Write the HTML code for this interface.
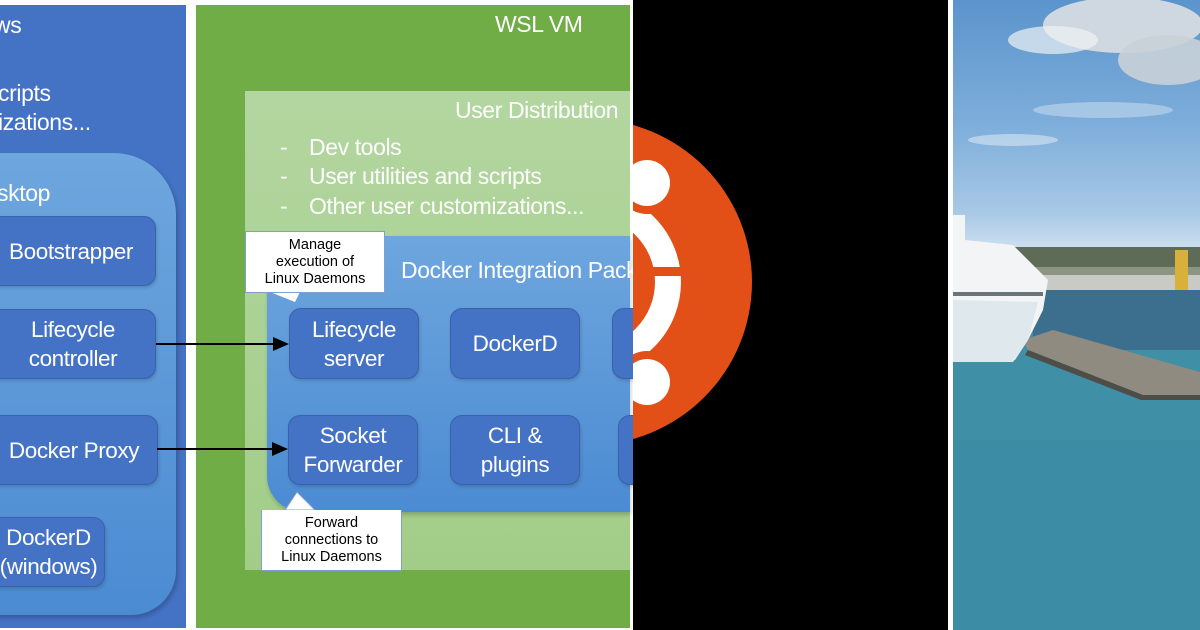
<!DOCTYPE html>
<html><head><meta charset="utf-8"><style>
*{margin:0;padding:0;box-sizing:border-box}
body{width:1200px;height:630px;background:#fff;position:relative;overflow:hidden;font-family:"Liberation Sans",sans-serif;color:#fff}
.a{position:absolute}
.t{position:absolute;font-size:23px;line-height:29px;white-space:nowrap;letter-spacing:-0.4px}
.box{position:absolute;background:#4472c4;border:1px solid #3a62aa;border-radius:12px;display:flex;align-items:center;justify-content:center;text-align:center;font-size:22.5px;line-height:29px;letter-spacing:-0.4px;box-shadow:1px 2px 3px rgba(0,0,0,.15);white-space:nowrap}
.call{position:absolute;background:#fff;border:1px solid #7f9fd0;color:#000;font-size:14.5px;line-height:17px;text-align:center;display:flex;align-items:center;justify-content:center}
</style></head><body>
<div class="a" style="left:0;top:5px;width:186px;height:623px;background:#4472c4"></div>
<div class="t" style="left:-6px;top:11px">ws</div>
<div class="t" style="left:-2px;top:79px">cripts</div>
<div class="t" style="left:-2px;top:108px">izations...</div>
<div class="a" style="left:-60px;top:153px;width:236px;height:462px;border-radius:0 62px 45px 0;background:linear-gradient(#6ea6de,#4b8bd2);box-shadow:2px 3px 4px rgba(0,0,0,.2)"></div>
<div class="t" style="left:-3px;top:179px">sktop</div>
<div class="box" style="left:-20px;top:216px;width:176px;height:70px;padding-left:6px">Bootstrapper</div>
<div class="box" style="left:-20px;top:309px;width:176px;height:70px;padding-left:10px">Lifecycle<br>controller</div>
<div class="box" style="left:-20px;top:415px;width:178px;height:70px;padding-left:10px">Docker Proxy</div>
<div class="box" style="left:-20px;top:517px;width:125px;height:70px;padding-left:12px">DockerD<br>(windows)</div>

<div class="a" style="left:196px;top:5px;width:434px;height:623px;background:#70ad47"></div>
<div class="t" style="left:495px;top:10px">WSL VM</div>
<div class="a" style="left:245px;top:91px;width:385px;height:479px;background:linear-gradient(#b3d6a0,#a2cd88)"></div>
<div class="t" style="left:455px;top:96px">User Distribution</div>
<div class="t" style="left:280px;top:133px">-</div><div class="t" style="left:309px;top:133px">Dev tools</div>
<div class="t" style="left:280px;top:162px">-</div><div class="t" style="left:309px;top:162px">User utilities and scripts</div>
<div class="t" style="left:280px;top:192px">-</div><div class="t" style="left:309px;top:192px">Other user customizations...</div>
<div class="a" style="left:267px;top:236px;width:363px;height:276px;border-radius:0 0 0 36px;background:linear-gradient(#6ea6de,#4b8bd2);box-shadow:1px 3px 4px rgba(0,0,0,.2)"></div>
<div class="t" style="left:401px;top:256px">Docker Integration Pack</div>
<div class="box" style="left:289px;top:308px;width:130px;height:71px">Lifecycle<br>server</div>
<div class="box" style="left:450px;top:308px;width:130px;height:71px">DockerD</div>
<div class="box" style="left:612px;top:308px;width:40px;height:71px"></div>
<div class="box" style="left:288px;top:415px;width:130px;height:70px">Socket<br>Forwarder</div>
<div class="box" style="left:450px;top:415px;width:130px;height:70px">CLI &amp;<br>plugins</div>
<div class="box" style="left:618px;top:415px;width:40px;height:70px"></div>

<svg class="a" style="left:0;top:0" width="630" height="630">
<defs><marker id="ar" markerWidth="8" markerHeight="8" refX="7" refY="4" orient="auto"><path d="M0,0.5 L8,4 L0,7.5z" fill="#000"/></marker></defs>
<line x1="156" y1="344" x2="287" y2="344" stroke="#000" stroke-width="2" marker-end="url(#ar)"/>
<line x1="157" y1="449" x2="286" y2="449" stroke="#000" stroke-width="2" marker-end="url(#ar)"/>
<path d="M270,292 L295,302 L300,292z" fill="#fff"/>
<path d="M285,510 L297,492 L315,510z" fill="#fff" stroke="#7f9fd0"/>
</svg>
<div class="call" style="left:245px;top:231px;width:140px;height:62px">Manage<br>execution of<br>Linux Daemons</div>
<div class="call" style="left:261px;top:510px;width:141px;height:61px;border-top:none">Forward<br>connections to<br>Linux Daemons</div>

<div class="a" style="left:633px;top:0;width:315px;height:630px;background:#000;overflow:hidden">
<svg width="315" height="630" style="position:absolute;left:0;top:0">
<circle cx="-44" cy="282" r="163" fill="#e24f17"/>
<circle cx="-44" cy="282" r="79" fill="none" stroke="#fff" stroke-width="26"/>
<rect x="0" y="267" width="60" height="9" fill="#e24f17"/>
<circle cx="14" cy="183" r="31" fill="#e24f17"/>
<circle cx="14" cy="183" r="23" fill="#fff"/>
<circle cx="14" cy="382" r="31" fill="#e24f17"/>
<circle cx="14" cy="382" r="23" fill="#fff"/>
</svg>
</div>

<div class="a" style="left:953px;top:0;width:247px;height:630px;overflow:hidden;background:linear-gradient(#5b94cc 0%,#7eaedb 20%,#a9c9e6 34%,#c9ddee 39%)">
<svg width="247" height="630" style="position:absolute;left:0;top:0">
<ellipse cx="170" cy="25" rx="80" ry="28" fill="#d5dbe0" opacity=".95"/>
<ellipse cx="215" cy="60" rx="50" ry="25" fill="#c9d1d8" opacity=".9"/>
<ellipse cx="100" cy="40" rx="45" ry="14" fill="#eef2f5" opacity=".7"/>
<ellipse cx="60" cy="140" rx="45" ry="6" fill="#e8f0f7" opacity=".5"/>
<ellipse cx="150" cy="110" rx="70" ry="8" fill="#e8f0f7" opacity=".4"/>
<rect x="0" y="247" width="247" height="50" fill="#8c9584"/>
<rect x="0" y="247" width="247" height="20" fill="#5e6b56"/>
<rect x="90" y="275" width="157" height="20" fill="#c9cac5"/>
<rect x="222" y="250" width="13" height="50" fill="#d8b03a"/>
<rect x="0" y="290" width="247" height="340" fill="#3f8fa6"/>
<rect x="80" y="290" width="167" height="60" fill="#3c6f8e"/>
<rect x="0" y="440" width="247" height="190" fill="#3b8aa4" opacity=".7"/>
<path d="M70,340 L100,330 L247,372 L247,395 L190,395 L75,350z" fill="#8f8b80"/>
<path d="M75,350 L190,395 L247,395 L247,400 L188,400 L72,355z" fill="#4e4d47"/>
<path d="M0,215 L12,215 L12,240 L60,245 L95,280 L90,310 L75,340 L62,360 L0,362z" fill="#f2f4f5"/>
<path d="M0,300 L85,302 L75,340 L60,362 L0,362z" fill="#dfe8ec"/>
<rect x="0" y="292" width="90" height="4" fill="#6a747a"/>
</svg>
</div>
</body></html>
